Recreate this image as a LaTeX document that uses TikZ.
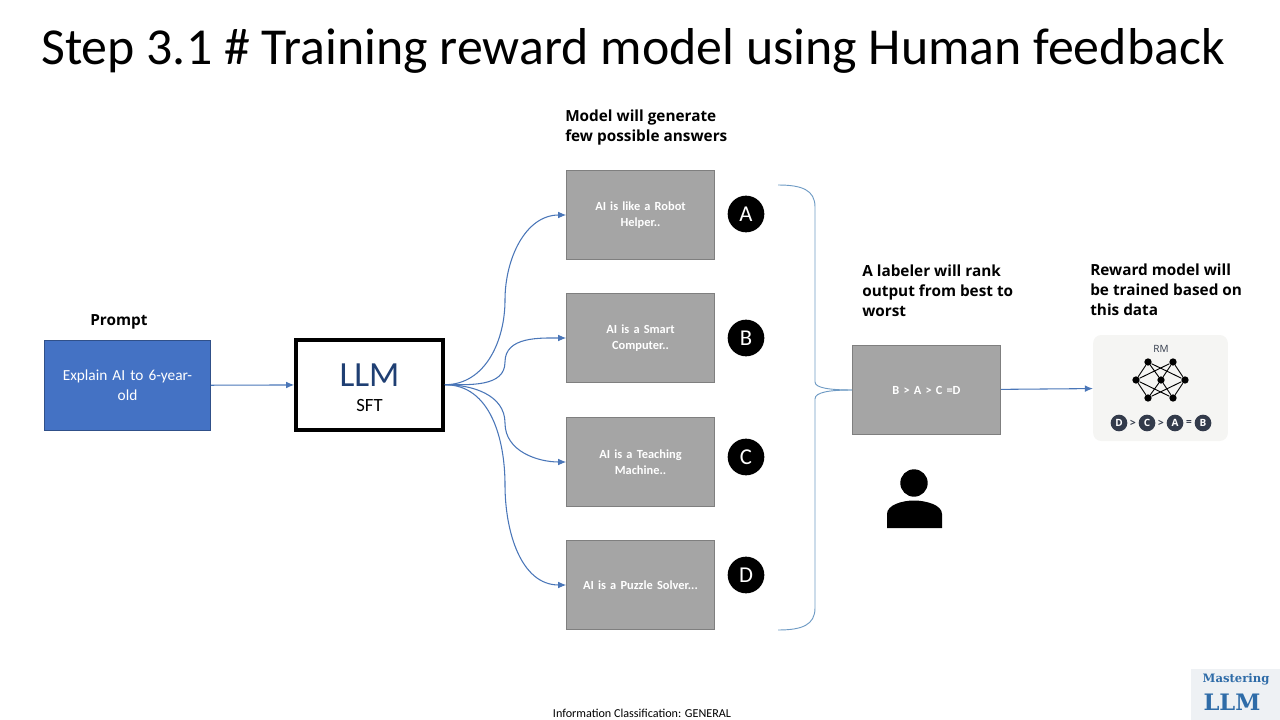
\documentclass[tikz,border=0pt]{standalone}
\usepackage{fontspec}
\setmainfont{Carlito}
\newfontfamily\labelfont{Open Sans}
\newfontfamily\logofont{DejaVu Serif}
\usetikzlibrary{arrows.meta}
\definecolor{linkblue}{HTML}{4A76B8}
\definecolor{braceblue}{HTML}{6F9BC4}
\definecolor{answergrey}{HTML}{A5A5A5}
\definecolor{edgegrey}{HTML}{7F7F7F}
\definecolor{promptblue}{HTML}{4472C4}
\definecolor{llmblue}{HTML}{1F3F73}
\definecolor{panelgrey}{HTML}{F5F5F3}
\definecolor{rankdark}{HTML}{333B4B}
\definecolor{logoblue}{HTML}{2F6CA8}
\definecolor{logogrey}{HTML}{EEF1F4}
\tikzset{
  answer/.style={draw=edgegrey,fill=answergrey,minimum width=111pt,minimum height=67pt,
    text width=100pt,align=center,text=white,font=\fontsize{9.3}{12}\selectfont\bfseries,inner sep=0pt},
  tag/.style={circle,fill=black,text=white,minimum size=27.5pt,inner sep=0pt,font=\fontsize{17}{17}\selectfont},
  note/.style={anchor=north west,align=left,inner sep=0pt,font=\labelfont\fontsize{11.5}{15}\selectfont\bfseries},
  link/.style={draw=linkblue,line width=0.8pt,-{Latex[length=6pt,width=5pt]}},
  bracket/.style={draw=braceblue,line width=0.7pt},
  dot/.style={circle,fill=black,minimum size=5.5pt,inner sep=0pt},
  rank/.style={circle,fill=rankdark,text=white,minimum size=12.5pt,inner sep=0pt,font=\labelfont\fontsize{7.5}{8}\selectfont\bfseries},
  sign/.style={inner sep=0pt,text=rankdark,font=\labelfont\fontsize{7.5}{8}\selectfont\bfseries}
}
\begin{document}
\begin{tikzpicture}[x=0.75pt,y=-0.75pt]
\useasboundingbox (0,0) rectangle (1280,720);
\node[anchor=base west,inner sep=0pt,font=\fontsize{38.9}{42}\selectfont] (title) at (41,65) {Step 3.1 \# Training reward model using Human feedback};
% prompt and model
\node[note] (promptlabel) at (90,314) {Prompt};
\node[draw=promptblue!70!black,fill=promptblue,text=white,minimum width=124.5pt,minimum height=67.5pt,text width=110pt,align=center,inner sep=0pt,font=\fontsize{11.5}{15}\selectfont] (prompt) at (127.5,385.5) {Explain AI to 6-year-\\old};
\node[draw=black,line width=3pt,minimum width=110pt,minimum height=67.5pt,align=center,inner sep=0pt] (llm) at (369.5,384.7) {\rule{0pt}{22pt}{\color{llmblue}\fontsize{26.5}{28}\selectfont LLM}\\[7pt]{\fontsize{14}{14}\selectfont SFT}};
\draw[link] (prompt) -- (llm);
% answers
\node[note] (answerlabel) at (565,110) {Model will generate\\few possible answers};
\node[answer] (a) at (640.5,215) {AI is like a Robot\\Helper..};
\node[answer] (b) at (640.5,338) {AI is a Smart\\Computer..};
\node[answer] (c) at (640.5,462) {AI is a Teaching\\Machine..};
\node[answer] (d) at (640.5,585) {AI is a Puzzle Solver...};
\node[tag] (taga) at (746,214) {A};
\node[tag] (tagb) at (746,338) {B};
\node[tag] (tagc) at (746,457) {C};
\node[tag] (tagd) at (746,575) {D};
\coordinate (ma) at (505,300);
\coordinate (mb) at (505,362);
\coordinate (mc) at (505,423);
\coordinate (md) at (505,485);
\draw[link] (llm.east) to[out=0,in=-90] (ma) to[out=90,in=180] (a.west);
\draw[link] (llm.east) to[out=0,in=-90] (mb) to[out=90,in=180] (b.west);
\draw[link] (llm.east) to[out=0,in=90] (mc) to[out=-90,in=180] (c.west);
\draw[link] (llm.east) to[out=0,in=90] (md) to[out=-90,in=180] (d.west);
% ranking
\node[note] (ranklabel) at (862,265) {A labeler will rank\\output from best to\\worst};
\node[answer] (ranking) at (926.5,390) {B > A > C =D};
\coordinate (bracetop) at (778,185);
\coordinate (bracebot) at (778,630);
\draw[bracket] (bracetop) .. controls (802,185) and (815,190) .. (815,207) -- (815,382) .. controls (815,388) and (830,390) .. (ranking.west);
\draw[bracket] (bracebot) .. controls (802,630) and (815,625) .. (815,608) -- (815,399) .. controls (815,392) and (830,390) .. (ranking.west);
% person
\fill (914,483) circle(13.7);
\fill (887,528) -- (887,514) .. controls (887,505) and (902,500.5) .. (914,500.5) .. controls (926,500.5) and (942,505) .. (942,514) -- (942,528) -- cycle;
% reward model
\node[note] (rewardlabel) at (1090,263.5) {Reward model will\\be trained based on\\this data};
\node[fill=panelgrey,rounded corners=6pt,minimum width=101pt,minimum height=79.5pt,inner sep=0pt] (panel) at (1160.5,388) {};
\draw[link] (ranking) -- (panel);
\node[inner sep=0pt,text=rankdark,font=\labelfont\fontsize{7.5}{8}\selectfont] (rm) at (1161,348.5) {RM};
\node[dot] (t1) at (1148,362) {};
\node[dot] (t2) at (1173,362) {};
\node[dot] (m1) at (1136,380) {};
\node[dot] (m2) at (1161,380) {};
\node[dot] (m3) at (1185,380) {};
\node[dot] (u1) at (1148,398) {};
\node[dot] (u2) at (1173,398) {};
\foreach \i in {1,2} \foreach \j in {1,2,3} {
  \draw[line width=0.7pt] (t\i) -- (m\j);
  \draw[line width=0.7pt] (u\i) -- (m\j);
}
\node[rank] (rd) at (1119,423) {D};
\node[sign] (s1) at (1133,423) {>};
\node[rank] (rc) at (1147,423) {C};
\node[sign] (s2) at (1161,423) {>};
\node[rank] (ra) at (1175,423) {A};
\node[sign] (s3) at (1189,423) {=};
\node[rank] (rb) at (1203,423) {B};
% footer
\node[inner sep=0pt,font=\fontsize{9.1}{10}\selectfont] (footer) at (642,713) {Information Classification: GENERAL};
\node[fill=logogrey,minimum width=66.75pt,minimum height=38.25pt,inner sep=0pt] (logo) at (1235.5,694.5) {};
\node[inner sep=0pt,text=logoblue,font=\logofont\fontsize{8.7}{9}\selectfont\bfseries] (mastering) at (1236,679) {Mastering};
\node[inner sep=0pt,text=logoblue,font=\logofont\fontsize{17}{18}\selectfont\bfseries] (logollm) at (1232,702) {LLM};
\end{tikzpicture}
\end{document}
